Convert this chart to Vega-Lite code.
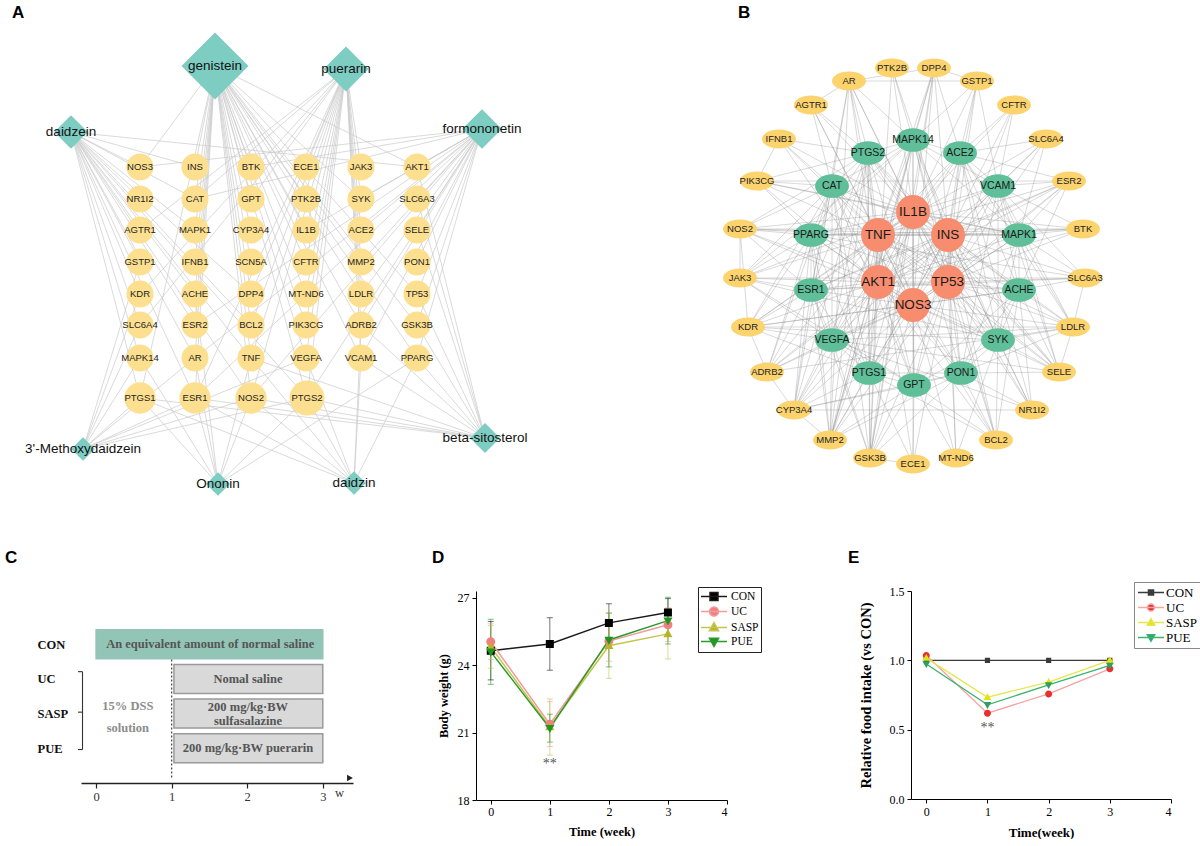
{
  "$schema": "https://vega.github.io/schema/vega-lite/v6.json",
  "padding": {"left": 5, "top": 4, "right": 0, "bottom": 0},
  "background": "#ffffff",
  "bounds": "flush",
  "spacing": 560,
  "resolve": {"scale": {"color": "independent", "fill": "independent", "stroke": "independent", "shape": "independent", "size": "independent"}, "legend": {"color": "independent", "fill": "independent", "stroke": "independent", "shape": "independent", "size": "independent"}},
  "config": {
    "view": {"stroke": null},
    "font": "Liberation Sans",
    "title": {"fontSize": 17, "fontWeight": "bold", "font": "Liberation Sans", "anchor": "start", "frame": "group", "color": "#000000"},
    "axis": {"grid": false, "domainColor": "#000000", "tickColor": "#000000", "labelColor": "#000000", "titleColor": "#000000", "labelFont": "Liberation Serif", "titleFont": "Liberation Serif", "labelFontSize": 12, "titleFontSize": 12.5, "titleFontWeight": "bold"}
  },
  "datasets": {
    "anodes": [
      {"id": "NOS3", "kind": "target", "x": 140, "y": 166, "degree": 3},
      {"id": "NR1I2", "kind": "target", "x": 140, "y": 198, "degree": 3},
      {"id": "AGTR1", "kind": "target", "x": 140, "y": 229, "degree": 3},
      {"id": "GSTP1", "kind": "target", "x": 140, "y": 261, "degree": 3},
      {"id": "KDR", "kind": "target", "x": 140, "y": 293, "degree": 3},
      {"id": "SLC6A4", "kind": "target", "x": 140, "y": 324, "degree": 3},
      {"id": "MAPK14", "kind": "target", "x": 140, "y": 357, "degree": 3},
      {"id": "PTGS1", "kind": "target", "x": 140, "y": 397, "degree": 4},
      {"id": "INS", "kind": "target", "x": 195, "y": 166, "degree": 3},
      {"id": "CAT", "kind": "target", "x": 195, "y": 198, "degree": 3},
      {"id": "MAPK1", "kind": "target", "x": 195, "y": 229, "degree": 3},
      {"id": "IFNB1", "kind": "target", "x": 195, "y": 261, "degree": 3},
      {"id": "ACHE", "kind": "target", "x": 195, "y": 293, "degree": 3},
      {"id": "ESR2", "kind": "target", "x": 195, "y": 324, "degree": 3},
      {"id": "AR", "kind": "target", "x": 195, "y": 357, "degree": 3},
      {"id": "ESR1", "kind": "target", "x": 195, "y": 397, "degree": 4},
      {"id": "BTK", "kind": "target", "x": 251, "y": 166, "degree": 3},
      {"id": "GPT", "kind": "target", "x": 251, "y": 198, "degree": 3},
      {"id": "CYP3A4", "kind": "target", "x": 251, "y": 229, "degree": 3},
      {"id": "SCN5A", "kind": "target", "x": 251, "y": 261, "degree": 3},
      {"id": "DPP4", "kind": "target", "x": 251, "y": 293, "degree": 3},
      {"id": "BCL2", "kind": "target", "x": 251, "y": 324, "degree": 3},
      {"id": "TNF", "kind": "target", "x": 251, "y": 357, "degree": 3},
      {"id": "NOS2", "kind": "target", "x": 251, "y": 397, "degree": 4},
      {"id": "ECE1", "kind": "target", "x": 306, "y": 166, "degree": 3},
      {"id": "PTK2B", "kind": "target", "x": 306, "y": 198, "degree": 3},
      {"id": "IL1B", "kind": "target", "x": 306, "y": 229, "degree": 3},
      {"id": "CFTR", "kind": "target", "x": 306, "y": 261, "degree": 3},
      {"id": "MT-ND6", "kind": "target", "x": 306, "y": 293, "degree": 3},
      {"id": "PIK3CG", "kind": "target", "x": 306, "y": 324, "degree": 3},
      {"id": "VEGFA", "kind": "target", "x": 306, "y": 357, "degree": 3},
      {"id": "PTGS2", "kind": "target", "x": 307, "y": 397, "degree": 5},
      {"id": "JAK3", "kind": "target", "x": 361, "y": 166, "degree": 3},
      {"id": "SYK", "kind": "target", "x": 361, "y": 198, "degree": 3},
      {"id": "ACE2", "kind": "target", "x": 361, "y": 229, "degree": 3},
      {"id": "MMP2", "kind": "target", "x": 361, "y": 261, "degree": 3},
      {"id": "LDLR", "kind": "target", "x": 361, "y": 293, "degree": 3},
      {"id": "ADRB2", "kind": "target", "x": 361, "y": 324, "degree": 3},
      {"id": "VCAM1", "kind": "target", "x": 361, "y": 357, "degree": 3},
      {"id": "AKT1", "kind": "target", "x": 417, "y": 166, "degree": 3},
      {"id": "SLC6A3", "kind": "target", "x": 417, "y": 198, "degree": 3},
      {"id": "SELE", "kind": "target", "x": 417, "y": 229, "degree": 3},
      {"id": "PON1", "kind": "target", "x": 417, "y": 261, "degree": 3},
      {"id": "TP53", "kind": "target", "x": 417, "y": 293, "degree": 3},
      {"id": "GSK3B", "kind": "target", "x": 417, "y": 324, "degree": 3},
      {"id": "PPARG", "kind": "target", "x": 417, "y": 357, "degree": 3},
      {"id": "genistein", "kind": "compound", "x": 215, "y": 65, "degree": 40},
      {"id": "puerarin", "kind": "compound", "x": 346, "y": 68, "degree": 18},
      {"id": "daidzein", "kind": "compound", "x": 71, "y": 131, "degree": 10},
      {"id": "formononetin", "kind": "compound", "x": 482, "y": 128, "degree": 14},
      {"id": "3'-Methoxydaidzein", "kind": "compound", "x": 83, "y": 448, "degree": 5},
      {"id": "Ononin", "kind": "compound", "x": 218, "y": 483, "degree": 5},
      {"id": "daidzin", "kind": "compound", "x": 354, "y": 482, "degree": 5},
      {"id": "beta-sitosterol", "kind": "compound", "x": 485, "y": 437, "degree": 8}
    ],
    "aedges": [
      {"s": "genistein", "t": ["NOS3","INS","BTK","CAT","GPT","PTK2B","MAPK1","CYP3A4","IL1B","IFNB1","SCN5A","CFTR","ACHE","DPP4","MT-ND6","ESR2","BCL2","PIK3CG","AR","TNF","VEGFA","ESR1","NOS2","PTGS2","PTGS1","AKT1","TP53","GSK3B","PPARG","MMP2","ADRB2","LDLR","SYK","VCAM1"]},
      {"s": "puerarin", "t": ["ECE1","JAK3","SYK","ACE2","IL1B","MMP2","LDLR","ADRB2","VCAM1","PTGS2","VEGFA","TNF","NOS2","ESR1","PIK3CG","MT-ND6","CFTR","GPT","CAT","AGTR1","KDR","SLC6A4","BCL2","DPP4"]},
      {"s": "daidzein", "t": ["NOS3","NR1I2","AGTR1","GSTP1","KDR","SLC6A4","MAPK14","PTGS1","ESR1","ESR2","AR","BCL2","INS","CAT","TNF","NOS2","PTGS2","DPP4","AKT1","MAPK1","ACHE"]},
      {"s": "formononetin", "t": ["AKT1","SLC6A3","SELE","PON1","TP53","GSK3B","PPARG","VCAM1","ADRB2","LDLR","MMP2","ACE2","SYK","NOS3","PTGS2","ESR1","NOS2","BTK","IL1B","ESR2","AR","CAT"]},
      {"s": "beta-sitosterol", "t": ["PPARG","GSK3B","TP53","VCAM1","PTGS2","NOS2","ESR1","PTGS1","AKT1","SELE","SLC6A3","ADRB2","TNF"]},
      {"s": "3'-Methoxydaidzein", "t": ["PTGS1","ESR1","NOS2","PTGS2","MAPK14","AR","KDR","SLC6A4","GSTP1","VEGFA"]},
      {"s": "Ononin", "t": ["PTGS1","ESR1","NOS2","PTGS2","TNF","AR","ACHE","PPARG","MAPK14"]},
      {"s": "daidzin", "t": ["PTGS1","ESR1","NOS2","PTGS2","VEGFA","TNF","VCAM1","PPARG","ADRB2"]}
    ],
    "bnodes": [
      {"id": "PTK2B", "ring": "outer", "x": 892, "y": 67},
      {"id": "DPP4", "ring": "outer", "x": 934, "y": 67},
      {"id": "GSTP1", "ring": "outer", "x": 977, "y": 80},
      {"id": "AR", "ring": "outer", "x": 849, "y": 80},
      {"id": "AGTR1", "ring": "outer", "x": 811, "y": 104},
      {"id": "CFTR", "ring": "outer", "x": 1014, "y": 104},
      {"id": "IFNB1", "ring": "outer", "x": 779, "y": 138},
      {"id": "SLC6A4", "ring": "outer", "x": 1046, "y": 138},
      {"id": "PIK3CG", "ring": "outer", "x": 757, "y": 180},
      {"id": "ESR2", "ring": "outer", "x": 1069, "y": 180},
      {"id": "NOS2", "ring": "outer", "x": 740, "y": 228},
      {"id": "BTK", "ring": "outer", "x": 1083, "y": 228},
      {"id": "JAK3", "ring": "outer", "x": 740, "y": 277},
      {"id": "SLC6A3", "ring": "outer", "x": 1085, "y": 277},
      {"id": "KDR", "ring": "outer", "x": 748, "y": 326},
      {"id": "LDLR", "ring": "outer", "x": 1073, "y": 326},
      {"id": "ADRB2", "ring": "outer", "x": 767, "y": 371},
      {"id": "SELE", "ring": "outer", "x": 1059, "y": 371},
      {"id": "CYP3A4", "ring": "outer", "x": 794, "y": 409},
      {"id": "NR1I2", "ring": "outer", "x": 1032, "y": 409},
      {"id": "MMP2", "ring": "outer", "x": 830, "y": 439},
      {"id": "BCL2", "ring": "outer", "x": 996, "y": 439},
      {"id": "GSK3B", "ring": "outer", "x": 870, "y": 457},
      {"id": "ECE1", "ring": "outer", "x": 913, "y": 463},
      {"id": "MT-ND6", "ring": "outer", "x": 956, "y": 457},
      {"id": "MAPK14", "ring": "middle", "x": 913, "y": 139},
      {"id": "PTGS2", "ring": "middle", "x": 868, "y": 152},
      {"id": "ACE2", "ring": "middle", "x": 960, "y": 152},
      {"id": "CAT", "ring": "middle", "x": 832, "y": 185},
      {"id": "VCAM1", "ring": "middle", "x": 998, "y": 185},
      {"id": "PPARG", "ring": "middle", "x": 811, "y": 234},
      {"id": "MAPK1", "ring": "middle", "x": 1019, "y": 234},
      {"id": "ESR1", "ring": "middle", "x": 811, "y": 289},
      {"id": "ACHE", "ring": "middle", "x": 1019, "y": 289},
      {"id": "VEGFA", "ring": "middle", "x": 832, "y": 339},
      {"id": "SYK", "ring": "middle", "x": 998, "y": 339},
      {"id": "PTGS1", "ring": "middle", "x": 869, "y": 372},
      {"id": "PON1", "ring": "middle", "x": 961, "y": 372},
      {"id": "GPT", "ring": "middle", "x": 914, "y": 384},
      {"id": "IL1B", "ring": "inner", "x": 913, "y": 211},
      {"id": "TNF", "ring": "inner", "x": 878, "y": 234},
      {"id": "INS", "ring": "inner", "x": 948, "y": 234},
      {"id": "AKT1", "ring": "inner", "x": 878, "y": 281},
      {"id": "TP53", "ring": "inner", "x": 948, "y": 281},
      {"id": "NOS3", "ring": "inner", "x": 913, "y": 304}
    ],
    "bedges": [
      {"s": "IL1B", "t": ["TNF","INS","AKT1","TP53","NOS3","MAPK14","PTGS2","ACE2","CAT","VCAM1","PPARG","MAPK1","ESR1","ACHE","VEGFA","SYK","PTGS1","PON1","GPT","AR","PTK2B","DPP4","GSTP1","AGTR1","CFTR","IFNB1","PIK3CG","NOS2","JAK3","KDR","MMP2","GSK3B","SELE","BTK","NR1I2"]},
      {"s": "TNF", "t": ["INS","AKT1","TP53","NOS3","MAPK14","PTGS2","ACE2","CAT","VCAM1","PPARG","MAPK1","ESR1","ACHE","VEGFA","SYK","PTGS1","PON1","GPT","AR","DPP4","AGTR1","IFNB1","PIK3CG","NOS2","JAK3","KDR","ADRB2","CYP3A4","MMP2","GSK3B","ECE1","SELE","LDLR","SLC6A4","ESR2"]},
      {"s": "INS", "t": ["AKT1","TP53","NOS3","MAPK14","PTGS2","ACE2","CAT","VCAM1","PPARG","MAPK1","ESR1","ACHE","VEGFA","SYK","PTGS1","PON1","GPT","PTK2B","DPP4","GSTP1","CFTR","SLC6A4","ESR2","BTK","SLC6A3","LDLR","SELE","NR1I2","BCL2","MT-ND6","ADRB2","CYP3A4","MMP2"]},
      {"s": "AKT1", "t": ["TP53","NOS3","MAPK14","PTGS2","ACE2","CAT","VCAM1","PPARG","MAPK1","ESR1","ACHE","VEGFA","SYK","PTGS1","PON1","GPT","AR","PTK2B","IFNB1","PIK3CG","NOS2","JAK3","KDR","ADRB2","CYP3A4","MMP2","GSK3B","BCL2","ESR2","BTK"]},
      {"s": "TP53", "t": ["NOS3","MAPK14","PTGS2","ACE2","CAT","VCAM1","PPARG","MAPK1","ESR1","ACHE","VEGFA","SYK","PTGS1","PON1","GPT","GSTP1","CFTR","SLC6A4","ESR2","BTK","SLC6A3","LDLR","SELE","NR1I2","BCL2","MT-ND6","ECE1","GSK3B","MMP2","AR"]},
      {"s": "NOS3", "t": ["MAPK14","PTGS2","ACE2","CAT","VCAM1","PPARG","MAPK1","ESR1","ACHE","VEGFA","SYK","PTGS1","PON1","GPT","AGTR1","DPP4","NOS2","KDR","ADRB2","CYP3A4","GSK3B","ECE1","MT-ND6","BCL2","SELE","LDLR","ESR2"]},
      {"s": "MAPK14", "t": ["PTGS2","ACE2","CAT","VCAM1","PPARG","MAPK1","SYK","PTK2B","DPP4","GSTP1","AR","JAK3","MMP2","GSK3B","BCL2"]},
      {"s": "PTGS2", "t": ["CAT","PPARG","ESR1","VEGFA","PTGS1","AR","AGTR1","IFNB1","PIK3CG","NOS2","CYP3A4","MMP2","GSK3B","SELE"]},
      {"s": "ACE2", "t": ["VCAM1","MAPK1","ACHE","SYK","DPP4","GSTP1","CFTR","SLC6A4","ESR2","LDLR","NR1I2"]},
      {"s": "CAT", "t": ["PPARG","ESR1","VEGFA","PTGS1","GPT","AGTR1","IFNB1","PIK3CG","NOS2","JAK3","KDR","ADRB2","GSK3B"]},
      {"s": "VCAM1", "t": ["MAPK1","ACHE","SYK","PON1","SLC6A4","ESR2","BTK","SLC6A3","LDLR","SELE","CFTR","GSTP1"]},
      {"s": "PPARG", "t": ["ESR1","VEGFA","PTGS1","PIK3CG","NOS2","JAK3","KDR","ADRB2","CYP3A4","MMP2","SLC6A3","BTK"]},
      {"s": "MAPK1", "t": ["ACHE","SYK","PON1","BTK","ESR2","SLC6A3","SLC6A4","LDLR","SELE","NOS2","PIK3CG"]},
      {"s": "ESR1", "t": ["VEGFA","PTGS1","AR","NOS2","JAK3","KDR","ADRB2","CYP3A4","MMP2","GSK3B","ESR2","SLC6A3"]},
      {"s": "ACHE", "t": ["SYK","PON1","GPT","SLC6A3","LDLR","SELE","NR1I2","BCL2","ESR2","KDR"]},
      {"s": "VEGFA", "t": ["PTGS1","GPT","KDR","ADRB2","CYP3A4","MMP2","GSK3B","SELE","LDLR","NR1I2","JAK3"]},
      {"s": "SYK", "t": ["PON1","GPT","SELE","NR1I2","BCL2","LDLR","JAK3","KDR","MT-ND6"]},
      {"s": "PTGS1", "t": ["GPT","PON1","CYP3A4","MMP2","GSK3B","ECE1","BCL2","KDR"]},
      {"s": "PON1", "t": ["GPT","NR1I2","BCL2","SELE","LDLR","CYP3A4","MMP2","GSK3B"]},
      {"s": "GPT", "t": ["ECE1","GSK3B","MMP2","CYP3A4","BCL2","MT-ND6","JAK3"]},
      {"s": "AR", "t": ["GSTP1","AGTR1","DPP4","MMP2","CYP3A4"]},
      {"s": "DPP4", "t": ["GSTP1","GSK3B","MMP2"]},
      {"s": "NOS2", "t": ["JAK3","KDR","BTK"]},
      {"s": "LDLR", "t": ["SELE","SLC6A3","ADRB2"]},
      {"s": "CYP3A4", "t": ["NR1I2","ADRB2","MMP2"]},
      {"s": "PIK3CG", "t": ["ESR2","IFNB1"]},
      {"s": "KDR", "t": ["LDLR","ADRB2"]},
      {"s": "JAK3", "t": ["SLC6A3"]},
      {"s": "GSK3B", "t": ["ECE1"]}
    ],
    "groups": [
      {"group": "CON", "row": 1, "start": 0, "end": 3, "mid": 1.51, "kind": "con", "label": "An equivalent amount of normal saline"},
      {"group": "UC", "row": 2, "start": 1.03, "end": 3, "mid": 2.01, "kind": "trt", "label": "Nomal saline"},
      {"group": "SASP", "row": 3, "start": 1.03, "end": 3, "mid": 2.01, "kind": "trt", "label": "200 mg/kg·BW\nsulfasalazine"},
      {"group": "PUE", "row": 4, "start": 1.03, "end": 3, "mid": 2.01, "kind": "trt", "label": "200 mg/kg·BW puerarin"}
    ],
    "cdss": [{"mid": 0.42, "row": 3.03, "label": "15% DSS\nsolution"}],
    "cdash": [{"start": 1, "row": 1.44, "row2": 4.863}],
    "cbracket": [
      {"start": -0.18, "end": -0.18, "row": 1.79, "row2": 4.04},
      {"start": -0.24, "end": -0.18, "row": 1.79, "row2": 1.79},
      {"start": -0.24, "end": -0.18, "row": 4.04, "row2": 4.04},
      {"start": -0.24, "end": -0.18, "row": 2.96, "row2": 2.96}
    ],
    "carrow": [{"start": 3.36, "row": 4.863}],
    "cw": [{"start": 3.22, "row": 5.3, "label": "w"}],
    "dstar": [{"week": 1, "mean": 19.6, "label": "**"}],
    "estar": [{"week": 1, "val": 0.515, "label": "**"}],
    "bw": [
      {"g": "CON", "week": 0, "mean": 24.65, "lo": 23.35, "hi": 25.95},
      {"g": "CON", "week": 1, "mean": 24.95, "lo": 23.78, "hi": 26.12},
      {"g": "CON", "week": 2, "mean": 25.89, "lo": 25.04, "hi": 26.74},
      {"g": "CON", "week": 3, "mean": 26.35, "lo": 25.73, "hi": 26.97},
      {"g": "UC", "week": 0, "mean": 25.05, "lo": 24.25, "hi": 25.85},
      {"g": "UC", "week": 1, "mean": 21.38, "lo": 20.38, "hi": 22.38},
      {"g": "UC", "week": 2, "mean": 25.08, "lo": 24.18, "hi": 25.98},
      {"g": "UC", "week": 3, "mean": 25.81, "lo": 25.06, "hi": 26.56},
      {"g": "SASP", "week": 0, "mean": 24.82, "lo": 23.87, "hi": 25.77},
      {"g": "SASP", "week": 1, "mean": 21.25, "lo": 20.0, "hi": 22.5},
      {"g": "SASP", "week": 2, "mean": 24.87, "lo": 23.42, "hi": 26.32},
      {"g": "SASP", "week": 3, "mean": 25.4, "lo": 24.28, "hi": 26.52},
      {"g": "PUE", "week": 0, "mean": 24.6, "lo": 23.15, "hi": 26.05},
      {"g": "PUE", "week": 1, "mean": 21.2, "lo": 20.58, "hi": 21.82},
      {"g": "PUE", "week": 2, "mean": 25.13, "lo": 23.93, "hi": 26.33},
      {"g": "PUE", "week": 3, "mean": 25.99, "lo": 24.95, "hi": 27.03}
    ],
    "fi": [
      {"g": "CON", "week": 0, "val": 1.0},
      {"g": "CON", "week": 1, "val": 1.0},
      {"g": "CON", "week": 2, "val": 1.0},
      {"g": "CON", "week": 3, "val": 1.0},
      {"g": "UC", "week": 0, "val": 1.035},
      {"g": "UC", "week": 1, "val": 0.619},
      {"g": "UC", "week": 2, "val": 0.758},
      {"g": "UC", "week": 3, "val": 0.939},
      {"g": "SASP", "week": 0, "val": 1.016},
      {"g": "SASP", "week": 1, "val": 0.734},
      {"g": "SASP", "week": 2, "val": 0.843},
      {"g": "SASP", "week": 3, "val": 1.0},
      {"g": "PUE", "week": 0, "val": 0.973},
      {"g": "PUE", "week": 1, "val": 0.679},
      {"g": "PUE", "week": 2, "val": 0.823},
      {"g": "PUE", "week": 3, "val": 0.963}
    ]
  },
  "vconcat": [
    {
      "bounds": "flush",
      "spacing": 10,
      "resolve": {"scale": {"color": "independent", "fill": "independent", "stroke": "independent", "shape": "independent", "size": "independent"}},
      "hconcat": [
        {
          "width": 509,
          "height": 470,
          "title": {"text": "A", "dx": -69, "offset": 9},
          "layer": [
            {
              "data": {"name": "aedges"},
              "transform": [
                {"flatten": ["t"]},
                {"fold": ["s", "t"], "as": ["end", "node"]},
                {"lookup": "node", "from": {"data": {"values": [
                  {"id": "NOS3", "x": 140, "y": 166}, {"id": "NR1I2", "x": 140, "y": 198}, {"id": "AGTR1", "x": 140, "y": 229}, {"id": "GSTP1", "x": 140, "y": 261},
                  {"id": "KDR", "x": 140, "y": 293}, {"id": "SLC6A4", "x": 140, "y": 324}, {"id": "MAPK14", "x": 140, "y": 357}, {"id": "PTGS1", "x": 140, "y": 397},
                  {"id": "INS", "x": 195, "y": 166}, {"id": "CAT", "x": 195, "y": 198}, {"id": "MAPK1", "x": 195, "y": 229}, {"id": "IFNB1", "x": 195, "y": 261},
                  {"id": "ACHE", "x": 195, "y": 293}, {"id": "ESR2", "x": 195, "y": 324}, {"id": "AR", "x": 195, "y": 357}, {"id": "ESR1", "x": 195, "y": 397},
                  {"id": "BTK", "x": 251, "y": 166}, {"id": "GPT", "x": 251, "y": 198}, {"id": "CYP3A4", "x": 251, "y": 229}, {"id": "SCN5A", "x": 251, "y": 261},
                  {"id": "DPP4", "x": 251, "y": 293}, {"id": "BCL2", "x": 251, "y": 324}, {"id": "TNF", "x": 251, "y": 357}, {"id": "NOS2", "x": 251, "y": 397},
                  {"id": "ECE1", "x": 306, "y": 166}, {"id": "PTK2B", "x": 306, "y": 198}, {"id": "IL1B", "x": 306, "y": 229}, {"id": "CFTR", "x": 306, "y": 261},
                  {"id": "MT-ND6", "x": 306, "y": 293}, {"id": "PIK3CG", "x": 306, "y": 324}, {"id": "VEGFA", "x": 306, "y": 357}, {"id": "PTGS2", "x": 307, "y": 397},
                  {"id": "JAK3", "x": 361, "y": 166}, {"id": "SYK", "x": 361, "y": 198}, {"id": "ACE2", "x": 361, "y": 229}, {"id": "MMP2", "x": 361, "y": 261},
                  {"id": "LDLR", "x": 361, "y": 293}, {"id": "ADRB2", "x": 361, "y": 324}, {"id": "VCAM1", "x": 361, "y": 357},
                  {"id": "AKT1", "x": 417, "y": 166}, {"id": "SLC6A3", "x": 417, "y": 198}, {"id": "SELE", "x": 417, "y": 229}, {"id": "PON1", "x": 417, "y": 261},
                  {"id": "TP53", "x": 417, "y": 293}, {"id": "GSK3B", "x": 417, "y": 324}, {"id": "PPARG", "x": 417, "y": 357},
                  {"id": "genistein", "x": 215, "y": 65}, {"id": "puerarin", "x": 346, "y": 68}, {"id": "daidzein", "x": 71, "y": 131}, {"id": "formononetin", "x": 482, "y": 128},
                  {"id": "3'-Methoxydaidzein", "x": 83, "y": 448}, {"id": "Ononin", "x": 218, "y": 483}, {"id": "daidzin", "x": 354, "y": 482}, {"id": "beta-sitosterol", "x": 485, "y": 437}
                ]}, "key": "id", "fields": ["x", "y"]}}
              ],
              "mark": {"type": "line", "color": "#cacaca", "strokeWidth": 0.7},
              "encoding": {
                "x": {"field": "x", "type": "quantitative", "scale": {"domain": [81, 590], "nice": false, "zero": false}, "axis": null},
                "y": {"field": "y", "type": "quantitative", "scale": {"domain": [30, 500], "reverse": true, "nice": false, "zero": false}, "axis": null},
                "detail": [{"field": "s", "type": "nominal"}, {"field": "t", "type": "nominal"}]
              }
            },
            {
              "data": {"name": "anodes"},
              "transform": [{"filter": {"field": "kind", "equal": "target"}}],
              "mark": {"type": "point", "shape": "circle", "filled": true, "color": "#fde08f", "opacity": 1},
              "encoding": {
                "x": {"field": "x", "type": "quantitative"},
                "y": {"field": "y", "type": "quantitative"},
                "size": {"field": "degree", "type": "quantitative", "scale": {"domain": [0, 6], "range": [0, 1470]}, "legend": null}
              }
            },
            {
              "data": {"name": "anodes"},
              "transform": [{"filter": {"field": "kind", "equal": "compound"}}],
              "mark": {"type": "point", "shape": "diamond", "filled": true, "color": "#7ecdc2", "opacity": 1},
              "encoding": {
                "x": {"field": "x", "type": "quantitative"},
                "y": {"field": "y", "type": "quantitative"},
                "size": {"field": "degree", "type": "quantitative", "scale": {"domain": [0, 40], "range": [0, 4489]}, "legend": null}
              }
            },
            {
              "data": {"name": "anodes"},
              "transform": [{"filter": {"field": "kind", "equal": "target"}}],
              "mark": {"type": "text", "font": "Liberation Sans", "fontSize": 9.5, "color": "#222222", "baseline": "middle", "align": "center"},
              "encoding": {
                "x": {"field": "x", "type": "quantitative"},
                "y": {"field": "y", "type": "quantitative"},
                "text": {"field": "id"}
              }
            },
            {
              "data": {"name": "anodes"},
              "transform": [{"filter": {"field": "kind", "equal": "compound"}}],
              "mark": {"type": "text", "font": "Liberation Sans", "fontSize": 13.5, "color": "#111111", "baseline": "middle", "align": "center"},
              "encoding": {
                "x": {"field": "x", "type": "quantitative"},
                "y": {"field": "y", "type": "quantitative"},
                "text": {"field": "id"}
              }
            }
          ],
          "resolve": {"scale": {"size": "independent"}}
        },
        {
          "width": 600,
          "height": 470,
          "title": {"text": "B", "dx": 138, "offset": 9},
          "layer": [
            {
              "data": {"name": "bedges"},
              "transform": [
                {"flatten": ["t"]},
                {"fold": ["s", "t"], "as": ["end", "node"]},
                {"lookup": "node", "from": {"data": {"values": [
                  {"id": "PTK2B", "x": 892, "y": 67}, {"id": "DPP4", "x": 934, "y": 67}, {"id": "GSTP1", "x": 977, "y": 80}, {"id": "AR", "x": 849, "y": 80},
                  {"id": "AGTR1", "x": 811, "y": 104}, {"id": "CFTR", "x": 1014, "y": 104}, {"id": "IFNB1", "x": 779, "y": 138}, {"id": "SLC6A4", "x": 1046, "y": 138},
                  {"id": "PIK3CG", "x": 757, "y": 180}, {"id": "ESR2", "x": 1069, "y": 180}, {"id": "NOS2", "x": 740, "y": 228}, {"id": "BTK", "x": 1083, "y": 228},
                  {"id": "JAK3", "x": 740, "y": 277}, {"id": "SLC6A3", "x": 1085, "y": 277}, {"id": "KDR", "x": 748, "y": 326}, {"id": "LDLR", "x": 1073, "y": 326},
                  {"id": "ADRB2", "x": 767, "y": 371}, {"id": "SELE", "x": 1059, "y": 371}, {"id": "CYP3A4", "x": 794, "y": 409}, {"id": "NR1I2", "x": 1032, "y": 409},
                  {"id": "MMP2", "x": 830, "y": 439}, {"id": "BCL2", "x": 996, "y": 439}, {"id": "GSK3B", "x": 870, "y": 457}, {"id": "ECE1", "x": 913, "y": 463},
                  {"id": "MT-ND6", "x": 956, "y": 457},
                  {"id": "MAPK14", "x": 913, "y": 139}, {"id": "PTGS2", "x": 868, "y": 152}, {"id": "ACE2", "x": 960, "y": 152}, {"id": "CAT", "x": 832, "y": 185},
                  {"id": "VCAM1", "x": 998, "y": 185}, {"id": "PPARG", "x": 811, "y": 234}, {"id": "MAPK1", "x": 1019, "y": 234}, {"id": "ESR1", "x": 811, "y": 289},
                  {"id": "ACHE", "x": 1019, "y": 289}, {"id": "VEGFA", "x": 832, "y": 339}, {"id": "SYK", "x": 998, "y": 339}, {"id": "PTGS1", "x": 869, "y": 372},
                  {"id": "PON1", "x": 961, "y": 372}, {"id": "GPT", "x": 914, "y": 384},
                  {"id": "IL1B", "x": 913, "y": 211}, {"id": "TNF", "x": 878, "y": 234}, {"id": "INS", "x": 948, "y": 234}, {"id": "AKT1", "x": 878, "y": 281},
                  {"id": "TP53", "x": 948, "y": 281}, {"id": "NOS3", "x": 913, "y": 304}
                ]}, "key": "id", "fields": ["x", "y"]}}
              ],
              "mark": {"type": "line", "color": "#8a8a8a", "strokeWidth": 0.6, "opacity": 0.55},
              "encoding": {
                "x": {"field": "x", "type": "quantitative", "scale": {"domain": [600, 1200], "nice": false, "zero": false}, "axis": null},
                "y": {"field": "y", "type": "quantitative", "scale": {"domain": [30, 500], "reverse": true, "nice": false, "zero": false}, "axis": null},
                "detail": [{"field": "s", "type": "nominal"}, {"field": "t", "type": "nominal"}]
              }
            },
            {
              "data": {"name": "bnodes"},
              "mark": {"type": "point", "filled": true, "opacity": 1, "size": 1150},
              "encoding": {
                "x": {"field": "x", "type": "quantitative"},
                "y": {"field": "y", "type": "quantitative"},
                "shape": {"field": "ring", "type": "nominal", "scale": {"domain": ["inner", "middle", "outer"], "range": ["circle", "M-1,0A1,0.7,0,1,1,1,0A1,0.7,0,1,1,-1,0Z", "M-1,0A1,0.56,0,1,1,1,0A1,0.56,0,1,1,-1,0Z"]}, "legend": null},
                "fill": {"field": "ring", "type": "nominal", "scale": {"domain": ["inner", "middle", "outer"], "range": ["#f88c6e", "#5fbf99", "#fcd36c"]}, "legend": null}
              }
            },
            {
              "data": {"name": "bnodes"},
              "transform": [{"filter": {"field": "ring", "equal": "outer"}}],
              "mark": {"type": "text", "font": "Liberation Sans", "fontSize": 9.5, "color": "#222222", "baseline": "middle", "align": "center"},
              "encoding": {
                "x": {"field": "x", "type": "quantitative"},
                "y": {"field": "y", "type": "quantitative"},
                "text": {"field": "id"}
              }
            },
            {
              "data": {"name": "bnodes"},
              "transform": [{"filter": {"field": "ring", "equal": "middle"}}],
              "mark": {"type": "text", "font": "Liberation Sans", "fontSize": 10.5, "color": "#1a1a1a", "baseline": "middle", "align": "center"},
              "encoding": {
                "x": {"field": "x", "type": "quantitative"},
                "y": {"field": "y", "type": "quantitative"},
                "text": {"field": "id"}
              }
            },
            {
              "data": {"name": "bnodes"},
              "transform": [{"filter": {"field": "ring", "equal": "inner"}}],
              "mark": {"type": "text", "font": "Liberation Sans", "fontSize": 13.5, "color": "#1a1a1a", "baseline": "middle", "align": "center"},
              "encoding": {
                "x": {"field": "x", "type": "quantitative"},
                "y": {"field": "y", "type": "quantitative"},
                "text": {"field": "id"}
              }
            }
          ]
        }
      ]
    },
    {
      "bounds": "flush",
      "spacing": 123,
      "resolve": {"scale": {"color": "independent", "fill": "independent", "stroke": "independent", "shape": "independent", "size": "independent"}, "legend": {"color": "independent", "fill": "independent", "stroke": "independent", "shape": "independent", "size": "independent"}},
      "hconcat": [
        {
          "width": 272,
          "height": 192,
          "title": {"text": "C", "dx": -76, "offset": 24},
          "layer": [
            {
              "data": {"name": "groups"},
              "mark": {"type": "bar", "orient": "horizontal", "height": 29, "strokeWidth": 1.5},
              "encoding": {
                "x": {"field": "start", "type": "quantitative", "scale": {"domain": [-0.2, 3.4], "nice": false, "zero": false}, "axis": {"values": [0, 1, 2, 3], "format": "d", "title": null, "tickSize": 5, "tickWidth": 1.2, "domainWidth": 1.5, "domainColor": "#222222", "tickColor": "#222222", "labelColor": "#333333", "labelFontSize": 12.5, "labelPadding": 2}},
                "x2": {"field": "end"},
                "y": {"field": "row", "type": "quantitative", "scale": {"domain": [-0.397, 4.863], "reverse": true, "nice": false, "zero": false}, "axis": {"values": [1, 2, 3, 4], "labelExpr": "datum.value == 1 ? 'CON' : datum.value == 2 ? 'UC' : datum.value == 3 ? 'SASP' : 'PUE'", "domain": false, "ticks": false, "title": null, "labelAlign": "left", "labelPadding": 44, "labelFontWeight": "bold", "labelFontSize": 12.5, "labelColor": "#111111"}},
                "fill": {"field": "kind", "type": "nominal", "scale": {"domain": ["con", "trt"], "range": ["#93c5b6", "#d9d9d9"]}, "legend": null},
                "stroke": {"field": "kind", "type": "nominal", "scale": {"domain": ["con", "trt"], "range": ["#93c5b6", "#9a9a9a"]}, "legend": null}
              }
            },
            {
              "data": {"name": "groups"},
              "transform": [{"filter": {"not": {"field": "group", "equal": "SASP"}}}],
              "mark": {"type": "text", "font": "Liberation Serif", "fontWeight": "bold", "fontSize": 12.5, "color": "#555555", "baseline": "middle", "align": "center"},
              "encoding": {
                "x": {"field": "mid", "type": "quantitative"},
                "y": {"field": "row", "type": "quantitative"},
                "text": {"field": "label"}
              }
            },
            {
              "data": {"name": "groups"},
              "transform": [{"filter": {"field": "group", "equal": "SASP"}}],
              "mark": {"type": "text", "font": "Liberation Serif", "fontWeight": "bold", "fontSize": 12.5, "color": "#555555", "lineBreak": "\n", "lineHeight": 14, "dy": -7, "baseline": "middle", "align": "center"},
              "encoding": {
                "x": {"field": "mid", "type": "quantitative"},
                "y": {"field": "row", "type": "quantitative"},
                "text": {"field": "label"}
              }
            },
            {
              "data": {"name": "cdss"},
              "mark": {"type": "text", "font": "Liberation Serif", "fontWeight": "bold", "fontSize": 12.5, "color": "#8c8c8c", "lineBreak": "\n", "lineHeight": 22, "dy": -9, "baseline": "middle", "align": "center"},
              "encoding": {
                "x": {"field": "mid", "type": "quantitative"},
                "y": {"field": "row", "type": "quantitative"},
                "text": {"field": "label"}
              }
            },
            {
              "data": {"name": "cdash"},
              "mark": {"type": "rule", "color": "#444444", "strokeWidth": 1.2, "strokeDash": [2, 2]},
              "encoding": {
                "x": {"field": "start", "type": "quantitative"},
                "y": {"field": "row", "type": "quantitative"},
                "y2": {"field": "row2"}
              }
            },
            {
              "data": {"name": "cbracket"},
              "mark": {"type": "rule", "color": "#333333", "strokeWidth": 1.1},
              "encoding": {
                "x": {"field": "start", "type": "quantitative"},
                "x2": {"field": "end"},
                "y": {"field": "row", "type": "quantitative"},
                "y2": {"field": "row2"}
              }
            },
            {
              "data": {"name": "carrow"},
              "mark": {"type": "point", "shape": "triangle-right", "filled": true, "color": "#222222", "opacity": 1, "size": 45},
              "encoding": {
                "x": {"field": "start", "type": "quantitative"},
                "y": {"field": "row", "type": "quantitative"}
              }
            },
            {
              "data": {"name": "cw"},
              "mark": {"type": "text", "font": "Liberation Serif", "fontSize": 12.5, "color": "#333333", "baseline": "middle", "align": "center"},
              "encoding": {
                "x": {"field": "start", "type": "quantitative"},
                "y": {"field": "row", "type": "quantitative"},
                "text": {"field": "label"}
              }
            }
          ]
        },
        {
          "bounds": "flush",
          "spacing": 184,
          "resolve": {"scale": {"color": "independent", "fill": "independent", "stroke": "independent", "shape": "independent", "size": "independent"}, "legend": {"color": "independent", "fill": "independent", "stroke": "independent", "shape": "independent", "size": "independent"}},
          "hconcat": [
            {
              "width": 251,
              "height": 209,
              "title": {"text": "D", "dx": -44, "offset": 20},
              "layer": [
                {
                  "data": {"name": "bw"},
                  "mark": {"type": "rule", "strokeWidth": 1, "opacity": 0.6},
                  "encoding": {
                    "x": {"field": "week", "type": "quantitative", "scale": {"domain": [-0.25, 4], "nice": false, "zero": false}, "axis": {"values": [0, 1, 2, 3, 4], "format": "d", "title": "Time (week)", "tickSize": 4, "labelPadding": 2, "titlePadding": 8}},
                    "y": {"field": "lo", "type": "quantitative", "scale": {"domain": [18, 27.31], "nice": false, "zero": false}, "axis": {"values": [18, 21, 24, 27], "format": "d", "title": "Body weight (g)", "tickSize": 4, "labelPadding": 3, "titlePadding": 7}},
                    "y2": {"field": "hi"},
                    "stroke": {"field": "g", "type": "nominal", "scale": {"domain": ["CON", "UC", "SASP", "PUE"], "range": ["#1a1a1a", "#f39a9a", "#c4c450", "#2a9a2a"]}}
                  }
                },
                {
                  "data": {"name": "bw"},
                  "transform": [{"fold": ["lo", "hi"], "as": ["end", "yv"]}],
                  "mark": {"type": "point", "shape": "stroke", "filled": false, "size": 36, "strokeWidth": 1, "opacity": 0.6},
                  "encoding": {
                    "x": {"field": "week", "type": "quantitative"},
                    "y": {"field": "yv", "type": "quantitative"},
                    "stroke": {"field": "g", "type": "nominal"}
                  }
                },
                {
                  "data": {"name": "bw"},
                  "mark": {"type": "line", "strokeWidth": 1.5},
                  "encoding": {
                    "x": {"field": "week", "type": "quantitative"},
                    "y": {"field": "mean", "type": "quantitative"},
                    "stroke": {"field": "g", "type": "nominal",
                      "legend": {"orient": "none", "legendX": 222, "legendY": -4, "title": null, "strokeColor": "#222222", "fillColor": "#ffffff", "padding": 2, "rowPadding": 0, "symbolSize": 169, "symbolStrokeWidth": 1.5, "symbolOpacity": 1, "labelFont": "Liberation Serif", "labelFontSize": 11.5, "labelColor": "#000000", "labelOffset": 16,
                        "encode": {"symbols": {"update": {
                          "stroke": {"signal": "datum.value === 'CON' ? '#1a1a1a' : datum.value === 'UC' ? '#f39a9a' : datum.value === 'SASP' ? '#c4c450' : '#2a9a2a'"},
                          "strokeWidth": {"value": 1.5},
                          "opacity": {"value": 1}
                        }}}}}
                  }
                },
                {
                  "data": {"name": "bw"},
                  "mark": {"type": "point", "filled": true, "opacity": 1, "size": 169, "strokeWidth": 0, "xOffset": -6.5},
                  "encoding": {
                    "x": {"field": "week", "type": "quantitative"},
                    "y": {"field": "mean", "type": "quantitative"},
                    "fill": {"field": "g", "type": "nominal", "scale": {"domain": ["CON", "UC", "SASP", "PUE"], "range": ["#000000", "#f07f7f", "#b5b52a", "#1e961e"]}, "legend": null},
                    "shape": {"field": "g", "type": "nominal", "scale": {"domain": ["CON", "UC", "SASP", "PUE"], "range": ["M-1,0H3M0.385,-0.615H1.615V0.615H0.385Z", "M-1,0H3M1.69,0A0.69,0.69,0,1,1,0.31,0A0.69,0.69,0,1,1,1.69,0Z", "M-1,0H3M1,-0.75L1.7,0.5H0.3Z", "M-1,0H3M1,0.75L1.7,-0.5H0.3Z"]}, "legend": null}
                  }
                },
                {
                  "data": {"name": "dstar"},
                  "mark": {"type": "text", "font": "Liberation Serif", "fontSize": 14, "color": "#555555", "baseline": "middle", "align": "center"},
                  "encoding": {
                    "x": {"field": "week", "type": "quantitative"},
                    "y": {"field": "mean", "type": "quantitative"},
                    "text": {"field": "label"}
                  }
                }
              ]
            },
            {
              "width": 260,
              "height": 208,
              "title": {"text": "E", "dx": -63, "offset": 15},
              "layer": [
                {
                  "data": {"name": "fi"},
                  "mark": {"type": "line", "strokeWidth": 1.3},
                  "encoding": {
                    "x": {"field": "week", "type": "quantitative", "scale": {"domain": [-0.25, 4], "nice": false, "zero": false}, "axis": {"values": [0, 1, 2, 3, 4], "format": "d", "title": "Time(week)", "tickSize": 4, "labelPadding": 3, "titlePadding": 9, "titleFontSize": 13}},
                    "y": {"field": "val", "type": "quantitative", "scale": {"domain": [0, 1.5], "nice": false}, "axis": {"values": [0, 0.5, 1, 1.5], "format": ".1f", "title": "Relative food intake (vs CON)", "tickSize": 4, "labelPadding": 3, "titlePadding": 16, "titleFontSize": 14.5}},
                    "stroke": {"field": "g", "type": "nominal", "scale": {"domain": ["CON", "UC", "SASP", "PUE"], "range": ["#3a3a3a", "#f4a4a4", "#e6e64a", "#3cb371"]},
                      "legend": {"orient": "none", "legendX": 223, "legendY": -9, "title": null, "strokeColor": "#888888", "fillColor": "#ffffff", "padding": 3, "rowPadding": 0, "symbolSize": 169, "symbolStrokeWidth": 1.3, "symbolOpacity": 1, "labelFont": "Liberation Serif", "labelFontSize": 13, "labelColor": "#000000", "labelOffset": 14,
                        "encode": {"symbols": {"update": {
                          "stroke": {"signal": "datum.value === 'CON' ? '#3a3a3a' : datum.value === 'UC' ? '#f4a4a4' : datum.value === 'SASP' ? '#e6e64a' : '#3cb371'"},
                          "strokeWidth": {"value": 1.3},
                          "opacity": {"value": 1}
                        }}}}}
                  }
                },
                {
                  "data": {"name": "fi"},
                  "mark": {"type": "point", "filled": true, "opacity": 1, "size": 169, "strokeWidth": 0, "xOffset": -6.5},
                  "encoding": {
                    "x": {"field": "week", "type": "quantitative"},
                    "y": {"field": "val", "type": "quantitative"},
                    "fill": {"field": "g", "type": "nominal", "scale": {"domain": ["CON", "UC", "SASP", "PUE"], "range": ["#3a3a3a", "#e8302e", "#e2e21a", "#2e9e62"]}, "legend": null},
                    "shape": {"field": "g", "type": "nominal", "scale": {"domain": ["CON", "UC", "SASP", "PUE"], "range": ["M-1,0H3M0.6,-0.4H1.4V0.4H0.6Z", "M-1,0H3M1.54,0A0.54,0.54,0,1,1,0.46,0A0.54,0.54,0,1,1,1.54,0Z", "M-1,0H3M1,-0.62L1.6,0.42H0.4Z", "M-1,0H3M1,0.62L1.6,-0.42H0.4Z"]}, "legend": null}
                  }
                },
                {
                  "data": {"name": "estar"},
                  "mark": {"type": "text", "font": "Liberation Serif", "fontSize": 14, "color": "#555555", "baseline": "middle", "align": "center"},
                  "encoding": {
                    "x": {"field": "week", "type": "quantitative"},
                    "y": {"field": "val", "type": "quantitative"},
                    "text": {"field": "label"}
                  }
                }
              ]
            }
          ]
        }
      ]
    }
  ]
}
